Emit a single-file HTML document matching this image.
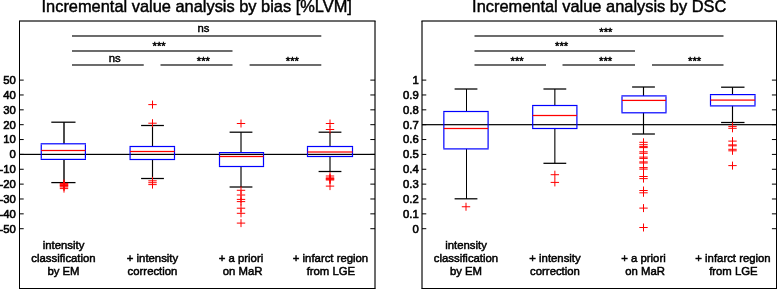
<!DOCTYPE html>
<html><head><meta charset="utf-8"><title>Incremental value analysis</title>
<style>html,body{margin:0;padding:0;background:#fff}svg{display:block}text{font-family:'Liberation Sans', Arial, sans-serif;fill:#000;stroke:#000;stroke-width:0.3px}text.t{stroke-width:0.45px}text.k{stroke-width:0.6px}text.s{stroke-width:0.45px}text.l{stroke-width:0.5px}</style>
</head><body>
<svg width="778" height="289" viewBox="0 0 778 289">
<rect width="778" height="289" fill="#fff"/>
<rect x="19" y="20.43" width="356.57" height="1.15" fill="#000"/>
<rect x="19" y="288" width="356.57" height="1" fill="#000"/>
<rect x="19" y="21" width="1" height="267.5" fill="#000"/>
<rect x="374.43" y="21" width="1.15" height="267.5" fill="#000"/>
<rect x="19.5" y="228.2" width="4.2" height="1" fill="#000"/>
<rect x="370.32" y="228.2" width="4.68" height="1" fill="#000"/>
<rect x="19.5" y="213.34" width="4.2" height="1" fill="#000"/>
<rect x="370.32" y="213.34" width="4.68" height="1" fill="#000"/>
<rect x="19.5" y="198.48" width="4.2" height="1" fill="#000"/>
<rect x="370.32" y="198.48" width="4.68" height="1" fill="#000"/>
<rect x="19.5" y="183.62" width="4.2" height="1" fill="#000"/>
<rect x="370.32" y="183.62" width="4.68" height="1" fill="#000"/>
<rect x="19.5" y="168.76" width="4.2" height="1" fill="#000"/>
<rect x="370.32" y="168.76" width="4.68" height="1" fill="#000"/>
<rect x="19.5" y="153.9" width="4.2" height="1" fill="#000"/>
<rect x="370.32" y="153.9" width="4.68" height="1" fill="#000"/>
<rect x="19.5" y="139.04" width="4.2" height="1" fill="#000"/>
<rect x="370.32" y="139.04" width="4.68" height="1" fill="#000"/>
<rect x="19.5" y="124.18" width="4.2" height="1" fill="#000"/>
<rect x="370.32" y="124.18" width="4.68" height="1" fill="#000"/>
<rect x="19.5" y="109.32" width="4.2" height="1" fill="#000"/>
<rect x="370.32" y="109.32" width="4.68" height="1" fill="#000"/>
<rect x="19.5" y="94.46" width="4.2" height="1" fill="#000"/>
<rect x="370.32" y="94.46" width="4.68" height="1" fill="#000"/>
<rect x="19.5" y="79.6" width="4.2" height="1" fill="#000"/>
<rect x="370.32" y="79.6" width="4.68" height="1" fill="#000"/>
<text x="15.9" y="232.6" font-size="11.3" text-anchor="end" class="k">-50</text>
<text x="15.9" y="217.74" font-size="11.3" text-anchor="end" class="k">-40</text>
<text x="15.9" y="202.88" font-size="11.3" text-anchor="end" class="k">-30</text>
<text x="15.9" y="188.02" font-size="11.3" text-anchor="end" class="k">-20</text>
<text x="15.9" y="173.16" font-size="11.3" text-anchor="end" class="k">-10</text>
<text x="15.9" y="158.3" font-size="11.3" text-anchor="end" class="k">0</text>
<text x="15.9" y="143.44" font-size="11.3" text-anchor="end" class="k">10</text>
<text x="15.9" y="128.58" font-size="11.3" text-anchor="end" class="k">20</text>
<text x="15.9" y="113.72" font-size="11.3" text-anchor="end" class="k">30</text>
<text x="15.9" y="98.86" font-size="11.3" text-anchor="end" class="k">40</text>
<text x="15.9" y="84" font-size="11.3" text-anchor="end" class="k">50</text>
<text x="196.7" y="11.8" font-size="16.4" text-anchor="middle" class="t">Incremental value analysis by bias [%LVM]</text>
<rect x="19.5" y="153.8" width="355.5" height="1.2" fill="#000"/>
<rect x="72" y="35.42" width="249.3" height="1.15" fill="#000"/>
<text x="203.55" y="32.2" font-size="11.3" text-anchor="middle" class="s">ns</text>
<rect x="72" y="50.42" width="160.5" height="1.15" fill="#000"/>
<text x="159.15" y="49.8" font-size="11.3" text-anchor="middle" class="s">***</text>
<rect x="72" y="64.42" width="71.75" height="1.15" fill="#000"/>
<text x="114.78" y="62.2" font-size="11.3" text-anchor="middle" class="s">ns</text>
<rect x="160.5" y="64.42" width="72" height="1.15" fill="#000"/>
<text x="203.4" y="64.8" font-size="11.3" text-anchor="middle" class="s">***</text>
<rect x="249.6" y="64.42" width="71.7" height="1.15" fill="#000"/>
<text x="292.35" y="64.8" font-size="11.3" text-anchor="middle" class="s">***</text>
<rect x="63.3" y="122.2" width="1.4" height="21.6" fill="#000"/>
<rect x="63.3" y="159.4" width="1.4" height="23.2" fill="#000"/>
<rect x="51.3" y="121.58" width="24.2" height="1.25" fill="#000"/>
<rect x="51.3" y="181.97" width="24.2" height="1.25" fill="#000"/>
<rect x="40.65" y="143.2" width="45.35" height="1.2" fill="#00f"/>
<rect x="40.65" y="158.8" width="45.35" height="1.2" fill="#00f"/>
<rect x="40.65" y="144.4" width="1.2" height="14.4" fill="#00f"/>
<rect x="84.8" y="144.4" width="1.2" height="14.4" fill="#00f"/>
<rect x="41.25" y="149.88" width="44.15" height="1.25" fill="#f00"/>
<rect x="151.93" y="125.5" width="1.15" height="21" fill="#000"/>
<rect x="151.93" y="159.5" width="1.15" height="19" fill="#000"/>
<rect x="141.1" y="124.88" width="22.8" height="1.25" fill="#000"/>
<rect x="141.1" y="177.88" width="22.8" height="1.25" fill="#000"/>
<rect x="129.5" y="145.9" width="45.6" height="1.2" fill="#00f"/>
<rect x="129.5" y="158.9" width="45.6" height="1.2" fill="#00f"/>
<rect x="129.5" y="147.1" width="1.2" height="11.8" fill="#00f"/>
<rect x="173.9" y="147.1" width="1.2" height="11.8" fill="#00f"/>
<rect x="130.1" y="150.88" width="44.4" height="1.25" fill="#f00"/>
<rect x="240.43" y="132.2" width="1.15" height="20.4" fill="#000"/>
<rect x="240.43" y="166.5" width="1.15" height="20.5" fill="#000"/>
<rect x="229.6" y="131.57" width="22.8" height="1.25" fill="#000"/>
<rect x="229.6" y="186.38" width="22.8" height="1.25" fill="#000"/>
<rect x="218.9" y="152" width="45.2" height="1.2" fill="#00f"/>
<rect x="218.9" y="165.9" width="45.2" height="1.2" fill="#00f"/>
<rect x="218.9" y="153.2" width="1.2" height="12.7" fill="#00f"/>
<rect x="262.9" y="153.2" width="1.2" height="12.7" fill="#00f"/>
<rect x="219.5" y="155.88" width="44" height="1.25" fill="#f00"/>
<rect x="329.43" y="132.2" width="1.15" height="14.3" fill="#000"/>
<rect x="329.43" y="156.5" width="1.15" height="15" fill="#000"/>
<rect x="318.6" y="131.57" width="22.8" height="1.25" fill="#000"/>
<rect x="318.6" y="170.88" width="22.8" height="1.25" fill="#000"/>
<rect x="306.9" y="145.9" width="46.2" height="1.2" fill="#00f"/>
<rect x="306.9" y="155.9" width="46.2" height="1.2" fill="#00f"/>
<rect x="306.9" y="147.1" width="1.2" height="8.8" fill="#00f"/>
<rect x="351.9" y="147.1" width="1.2" height="8.8" fill="#00f"/>
<rect x="307.5" y="151.38" width="45" height="1.25" fill="#f00"/>
<rect x="59.8" y="182.9" width="8.4" height="1" fill="#f00"/>
<rect x="63.5" y="179.4" width="1" height="8" fill="#f00"/>
<rect x="59.8" y="183.6" width="8.4" height="1" fill="#f00"/>
<rect x="63.5" y="180.1" width="1" height="8" fill="#f00"/>
<rect x="59.8" y="184.3" width="8.4" height="1" fill="#f00"/>
<rect x="63.5" y="180.8" width="1" height="8" fill="#f00"/>
<rect x="59.8" y="185" width="8.4" height="1" fill="#f00"/>
<rect x="63.5" y="181.5" width="1" height="8" fill="#f00"/>
<rect x="59.8" y="185.6" width="8.4" height="1" fill="#f00"/>
<rect x="63.5" y="182.1" width="1" height="8" fill="#f00"/>
<rect x="59.8" y="186.5" width="8.4" height="1" fill="#f00"/>
<rect x="63.5" y="183" width="1" height="8" fill="#f00"/>
<rect x="59.8" y="188.1" width="8.4" height="1" fill="#f00"/>
<rect x="63.5" y="184.6" width="1" height="8" fill="#f00"/>
<rect x="148.3" y="104.1" width="8.4" height="1" fill="#f00"/>
<rect x="152" y="100.6" width="1" height="8" fill="#f00"/>
<rect x="148.3" y="122.7" width="8.4" height="1" fill="#f00"/>
<rect x="152" y="119.2" width="1" height="8" fill="#f00"/>
<rect x="148.3" y="180.3" width="8.4" height="1" fill="#f00"/>
<rect x="152" y="176.8" width="1" height="8" fill="#f00"/>
<rect x="148.3" y="182.2" width="8.4" height="1" fill="#f00"/>
<rect x="152" y="178.7" width="1" height="8" fill="#f00"/>
<rect x="148.3" y="184.1" width="8.4" height="1" fill="#f00"/>
<rect x="152" y="180.6" width="1" height="8" fill="#f00"/>
<rect x="236.8" y="123" width="8.4" height="1" fill="#f00"/>
<rect x="240.5" y="119.5" width="1" height="8" fill="#f00"/>
<rect x="236.8" y="189.8" width="8.4" height="1" fill="#f00"/>
<rect x="240.5" y="186.3" width="1" height="8" fill="#f00"/>
<rect x="236.8" y="194.5" width="8.4" height="1" fill="#f00"/>
<rect x="240.5" y="191" width="1" height="8" fill="#f00"/>
<rect x="236.8" y="198.9" width="8.4" height="1" fill="#f00"/>
<rect x="240.5" y="195.4" width="1" height="8" fill="#f00"/>
<rect x="236.8" y="201.1" width="8.4" height="1" fill="#f00"/>
<rect x="240.5" y="197.6" width="1" height="8" fill="#f00"/>
<rect x="236.8" y="207.7" width="8.4" height="1" fill="#f00"/>
<rect x="240.5" y="204.2" width="1" height="8" fill="#f00"/>
<rect x="236.8" y="212.8" width="8.4" height="1" fill="#f00"/>
<rect x="240.5" y="209.3" width="1" height="8" fill="#f00"/>
<rect x="236.8" y="222.6" width="8.4" height="1" fill="#f00"/>
<rect x="240.5" y="219.1" width="1" height="8" fill="#f00"/>
<rect x="325.8" y="123" width="8.4" height="1" fill="#f00"/>
<rect x="329.5" y="119.5" width="1" height="8" fill="#f00"/>
<rect x="325.8" y="129" width="8.4" height="1" fill="#f00"/>
<rect x="329.5" y="125.5" width="1" height="8" fill="#f00"/>
<rect x="325.8" y="175.5" width="8.4" height="1" fill="#f00"/>
<rect x="329.5" y="172" width="1" height="8" fill="#f00"/>
<rect x="325.8" y="177.4" width="8.4" height="1" fill="#f00"/>
<rect x="329.5" y="173.9" width="1" height="8" fill="#f00"/>
<rect x="325.8" y="178.1" width="8.4" height="1" fill="#f00"/>
<rect x="329.5" y="174.6" width="1" height="8" fill="#f00"/>
<rect x="325.8" y="178.8" width="8.4" height="1" fill="#f00"/>
<rect x="329.5" y="175.3" width="1" height="8" fill="#f00"/>
<rect x="325.8" y="179.5" width="8.4" height="1" fill="#f00"/>
<rect x="329.5" y="176" width="1" height="8" fill="#f00"/>
<rect x="325.8" y="185.6" width="8.4" height="1" fill="#f00"/>
<rect x="329.5" y="182.1" width="1" height="8" fill="#f00"/>
<text x="63.5" y="249" font-size="11.35" text-anchor="middle" class="l">intensity</text>
<text x="63.5" y="261.75" font-size="11.35" text-anchor="middle" class="l">classification</text>
<text x="63.5" y="274.5" font-size="11.35" text-anchor="middle" class="l">by EM</text>
<text x="152.5" y="262" font-size="11.35" text-anchor="middle" class="l">+ intensity</text>
<text x="152.5" y="274.75" font-size="11.35" text-anchor="middle" class="l">correction</text>
<text x="241" y="262" font-size="11.35" text-anchor="middle" class="l">+ a priori</text>
<text x="242.6" y="274.75" font-size="11.35" text-anchor="middle" class="l">on MaR</text>
<text x="330.5" y="262" font-size="11.35" text-anchor="middle" class="l">+ infarct region</text>
<text x="330.9" y="274.75" font-size="11.35" text-anchor="middle" class="l">from LGE</text>
<rect x="421.43" y="20.43" width="355.57" height="1.15" fill="#000"/>
<rect x="421.43" y="288" width="355.57" height="1" fill="#000"/>
<rect x="421.43" y="21" width="1.15" height="267.5" fill="#000"/>
<rect x="776" y="21" width="1" height="267.5" fill="#000"/>
<rect x="422" y="228.2" width="4.27" height="1" fill="#000"/>
<rect x="771.9" y="228.2" width="4.6" height="1" fill="#000"/>
<rect x="422" y="213.34" width="4.27" height="1" fill="#000"/>
<rect x="771.9" y="213.34" width="4.6" height="1" fill="#000"/>
<rect x="422" y="198.48" width="4.27" height="1" fill="#000"/>
<rect x="771.9" y="198.48" width="4.6" height="1" fill="#000"/>
<rect x="422" y="183.62" width="4.27" height="1" fill="#000"/>
<rect x="771.9" y="183.62" width="4.6" height="1" fill="#000"/>
<rect x="422" y="168.76" width="4.27" height="1" fill="#000"/>
<rect x="771.9" y="168.76" width="4.6" height="1" fill="#000"/>
<rect x="422" y="153.9" width="4.27" height="1" fill="#000"/>
<rect x="771.9" y="153.9" width="4.6" height="1" fill="#000"/>
<rect x="422" y="139.04" width="4.27" height="1" fill="#000"/>
<rect x="771.9" y="139.04" width="4.6" height="1" fill="#000"/>
<rect x="422" y="124.18" width="4.27" height="1" fill="#000"/>
<rect x="771.9" y="124.18" width="4.6" height="1" fill="#000"/>
<rect x="422" y="109.32" width="4.27" height="1" fill="#000"/>
<rect x="771.9" y="109.32" width="4.6" height="1" fill="#000"/>
<rect x="422" y="94.46" width="4.27" height="1" fill="#000"/>
<rect x="771.9" y="94.46" width="4.6" height="1" fill="#000"/>
<rect x="422" y="79.6" width="4.27" height="1" fill="#000"/>
<rect x="771.9" y="79.6" width="4.6" height="1" fill="#000"/>
<text x="418.7" y="232.6" font-size="11.3" text-anchor="end" class="k">0</text>
<text x="418.7" y="217.74" font-size="11.3" text-anchor="end" class="k">0.1</text>
<text x="418.7" y="202.88" font-size="11.3" text-anchor="end" class="k">0.2</text>
<text x="418.7" y="188.02" font-size="11.3" text-anchor="end" class="k">0.3</text>
<text x="418.7" y="173.16" font-size="11.3" text-anchor="end" class="k">0.4</text>
<text x="418.7" y="158.3" font-size="11.3" text-anchor="end" class="k">0.5</text>
<text x="418.7" y="143.44" font-size="11.3" text-anchor="end" class="k">0.6</text>
<text x="418.7" y="128.58" font-size="11.3" text-anchor="end" class="k">0.7</text>
<text x="418.7" y="113.72" font-size="11.3" text-anchor="end" class="k">0.8</text>
<text x="418.7" y="98.86" font-size="11.3" text-anchor="end" class="k">0.9</text>
<text x="418.7" y="84" font-size="11.3" text-anchor="end" class="k">1</text>
<text x="599.2" y="11.8" font-size="16.4" text-anchor="middle" class="t">Incremental value analysis by DSC</text>
<rect x="422" y="124.08" width="354.5" height="1.2" fill="#000"/>
<rect x="474.5" y="35.42" width="249" height="1.15" fill="#000"/>
<text x="605.9" y="35.8" font-size="11.3" text-anchor="middle" class="s">***</text>
<rect x="474.5" y="50.42" width="160.5" height="1.15" fill="#000"/>
<text x="561.65" y="49.8" font-size="11.3" text-anchor="middle" class="s">***</text>
<rect x="474.5" y="64.42" width="71.5" height="1.15" fill="#000"/>
<text x="517.15" y="64.8" font-size="11.3" text-anchor="middle" class="s">***</text>
<rect x="562.5" y="64.42" width="72.5" height="1.15" fill="#000"/>
<text x="605.65" y="64.8" font-size="11.3" text-anchor="middle" class="s">***</text>
<rect x="652" y="64.42" width="71.5" height="1.15" fill="#000"/>
<text x="694.65" y="64.8" font-size="11.3" text-anchor="middle" class="s">***</text>
<rect x="466" y="89" width="1" height="22.5" fill="#000"/>
<rect x="466" y="148.9" width="1" height="49.9" fill="#000"/>
<rect x="454.6" y="88.38" width="22.8" height="1.25" fill="#000"/>
<rect x="454.6" y="198.18" width="22.8" height="1.25" fill="#000"/>
<rect x="443.25" y="110.9" width="45.45" height="1.2" fill="#00f"/>
<rect x="443.25" y="148.3" width="45.45" height="1.2" fill="#00f"/>
<rect x="443.25" y="112.1" width="1.2" height="36.2" fill="#00f"/>
<rect x="487.5" y="112.1" width="1.2" height="36.2" fill="#00f"/>
<rect x="443.85" y="127.88" width="44.25" height="1.25" fill="#f00"/>
<rect x="554.3" y="89" width="1.1" height="16.5" fill="#000"/>
<rect x="554.3" y="128.5" width="1.1" height="34.8" fill="#000"/>
<rect x="543.45" y="88.38" width="22.8" height="1.25" fill="#000"/>
<rect x="543.45" y="162.68" width="22.8" height="1.25" fill="#000"/>
<rect x="532.1" y="104.9" width="45.4" height="1.2" fill="#00f"/>
<rect x="532.1" y="127.9" width="45.4" height="1.2" fill="#00f"/>
<rect x="532.1" y="106.1" width="1.2" height="21.8" fill="#00f"/>
<rect x="576.3" y="106.1" width="1.2" height="21.8" fill="#00f"/>
<rect x="532.7" y="114.88" width="44.2" height="1.25" fill="#f00"/>
<rect x="642.92" y="87" width="1.15" height="8.9" fill="#000"/>
<rect x="642.92" y="112.8" width="1.15" height="21.2" fill="#000"/>
<rect x="632.1" y="86.38" width="22.8" height="1.25" fill="#000"/>
<rect x="632.1" y="133.38" width="22.8" height="1.25" fill="#000"/>
<rect x="621.4" y="95.3" width="45.2" height="1.2" fill="#00f"/>
<rect x="621.4" y="112.2" width="45.2" height="1.2" fill="#00f"/>
<rect x="621.4" y="96.5" width="1.2" height="15.7" fill="#00f"/>
<rect x="665.4" y="96.5" width="1.2" height="15.7" fill="#00f"/>
<rect x="622" y="99.78" width="44" height="1.25" fill="#f00"/>
<rect x="731.92" y="87.2" width="1.15" height="7.4" fill="#000"/>
<rect x="731.92" y="105.9" width="1.15" height="16.6" fill="#000"/>
<rect x="721.1" y="86.58" width="23.4" height="1.25" fill="#000"/>
<rect x="721.1" y="121.88" width="23.4" height="1.25" fill="#000"/>
<rect x="709.9" y="94" width="45.7" height="1.2" fill="#00f"/>
<rect x="709.9" y="105.3" width="45.7" height="1.2" fill="#00f"/>
<rect x="709.9" y="95.2" width="1.2" height="10.1" fill="#00f"/>
<rect x="754.4" y="95.2" width="1.2" height="10.1" fill="#00f"/>
<rect x="710.5" y="99.47" width="44.5" height="1.25" fill="#f00"/>
<rect x="461.8" y="206.25" width="8.4" height="1" fill="#f00"/>
<rect x="465.5" y="202.75" width="1" height="8" fill="#f00"/>
<rect x="550.65" y="174.2" width="8.4" height="1" fill="#f00"/>
<rect x="554.35" y="170.7" width="1" height="8" fill="#f00"/>
<rect x="550.65" y="181.9" width="8.4" height="1" fill="#f00"/>
<rect x="554.35" y="178.4" width="1" height="8" fill="#f00"/>
<rect x="639.3" y="141.8" width="8.4" height="1" fill="#f00"/>
<rect x="643" y="138.3" width="1" height="8" fill="#f00"/>
<rect x="639.3" y="144.2" width="8.4" height="1" fill="#f00"/>
<rect x="643" y="140.7" width="1" height="8" fill="#f00"/>
<rect x="639.3" y="146.1" width="8.4" height="1" fill="#f00"/>
<rect x="643" y="142.6" width="1" height="8" fill="#f00"/>
<rect x="639.3" y="147.1" width="8.4" height="1" fill="#f00"/>
<rect x="643" y="143.6" width="1" height="8" fill="#f00"/>
<rect x="639.3" y="151.3" width="8.4" height="1" fill="#f00"/>
<rect x="643" y="147.8" width="1" height="8" fill="#f00"/>
<rect x="639.3" y="152.8" width="8.4" height="1" fill="#f00"/>
<rect x="643" y="149.3" width="1" height="8" fill="#f00"/>
<rect x="639.3" y="156.6" width="8.4" height="1" fill="#f00"/>
<rect x="643" y="153.1" width="1" height="8" fill="#f00"/>
<rect x="639.3" y="157.9" width="8.4" height="1" fill="#f00"/>
<rect x="643" y="154.4" width="1" height="8" fill="#f00"/>
<rect x="639.3" y="161.4" width="8.4" height="1" fill="#f00"/>
<rect x="643" y="157.9" width="1" height="8" fill="#f00"/>
<rect x="639.3" y="162.5" width="8.4" height="1" fill="#f00"/>
<rect x="643" y="159" width="1" height="8" fill="#f00"/>
<rect x="639.3" y="167.1" width="8.4" height="1" fill="#f00"/>
<rect x="643" y="163.6" width="1" height="8" fill="#f00"/>
<rect x="639.3" y="168.6" width="8.4" height="1" fill="#f00"/>
<rect x="643" y="165.1" width="1" height="8" fill="#f00"/>
<rect x="639.3" y="176" width="8.4" height="1" fill="#f00"/>
<rect x="643" y="172.5" width="1" height="8" fill="#f00"/>
<rect x="639.3" y="178.1" width="8.4" height="1" fill="#f00"/>
<rect x="643" y="174.6" width="1" height="8" fill="#f00"/>
<rect x="639.3" y="190" width="8.4" height="1" fill="#f00"/>
<rect x="643" y="186.5" width="1" height="8" fill="#f00"/>
<rect x="639.3" y="192.3" width="8.4" height="1" fill="#f00"/>
<rect x="643" y="188.8" width="1" height="8" fill="#f00"/>
<rect x="639.3" y="207.6" width="8.4" height="1" fill="#f00"/>
<rect x="643" y="204.1" width="1" height="8" fill="#f00"/>
<rect x="639.3" y="227" width="8.4" height="1" fill="#f00"/>
<rect x="643" y="223.5" width="1" height="8" fill="#f00"/>
<rect x="728.3" y="125.9" width="8.4" height="1" fill="#f00"/>
<rect x="732" y="122.4" width="1" height="8" fill="#f00"/>
<rect x="728.3" y="127.8" width="8.4" height="1" fill="#f00"/>
<rect x="732" y="124.3" width="1" height="8" fill="#f00"/>
<rect x="728.3" y="140.6" width="8.4" height="1" fill="#f00"/>
<rect x="732" y="137.1" width="1" height="8" fill="#f00"/>
<rect x="728.3" y="144.4" width="8.4" height="1" fill="#f00"/>
<rect x="732" y="140.9" width="1" height="8" fill="#f00"/>
<rect x="728.3" y="145.3" width="8.4" height="1" fill="#f00"/>
<rect x="732" y="141.8" width="1" height="8" fill="#f00"/>
<rect x="728.3" y="148.8" width="8.4" height="1" fill="#f00"/>
<rect x="732" y="145.3" width="1" height="8" fill="#f00"/>
<rect x="728.3" y="150.3" width="8.4" height="1" fill="#f00"/>
<rect x="732" y="146.8" width="1" height="8" fill="#f00"/>
<rect x="728.3" y="165.1" width="8.4" height="1" fill="#f00"/>
<rect x="732" y="161.6" width="1" height="8" fill="#f00"/>
<text x="466" y="249" font-size="11.35" text-anchor="middle" class="l">intensity</text>
<text x="466" y="261.75" font-size="11.35" text-anchor="middle" class="l">classification</text>
<text x="466" y="274.5" font-size="11.35" text-anchor="middle" class="l">by EM</text>
<text x="555" y="262" font-size="11.35" text-anchor="middle" class="l">+ intensity</text>
<text x="555" y="274.75" font-size="11.35" text-anchor="middle" class="l">correction</text>
<text x="643.5" y="262" font-size="11.35" text-anchor="middle" class="l">+ a priori</text>
<text x="645.1" y="274.75" font-size="11.35" text-anchor="middle" class="l">on MaR</text>
<text x="733" y="262" font-size="11.35" text-anchor="middle" class="l">+ infarct region</text>
<text x="733.4" y="274.75" font-size="11.35" text-anchor="middle" class="l">from LGE</text>
</svg></body></html>
